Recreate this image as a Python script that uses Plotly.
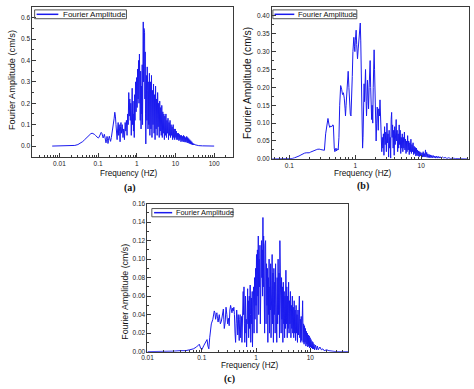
import plotly.graph_objects as go

# ---------------- data ----------------
# Panel (a): (frequency Hz, Fourier amplitude cm/s)
spec_a = [
    (0.0065, 0.0), (0.01, 0.0), (0.015, 0.0), (0.02, 0.001), (0.025, 0.003), (0.03, 0.007),
    (0.035, 0.013), (0.04, 0.021), (0.045, 0.030), (0.05, 0.039), (0.055, 0.047), (0.06, 0.054),
    (0.065, 0.058), (0.07, 0.060), (0.075, 0.059), (0.08, 0.055), (0.085, 0.050), (0.09, 0.045),
    (0.095, 0.041), (0.10, 0.038), (0.105, 0.040), (0.11, 0.050), (0.115, 0.060), (0.12, 0.064),
    (0.125, 0.060), (0.13, 0.048), (0.135, 0.038), (0.14, 0.046), (0.145, 0.055), (0.15, 0.042),
    (0.155, 0.025), (0.16, 0.015), (0.165, 0.030), (0.17, 0.045), (0.175, 0.035), (0.18, 0.012),
    (0.185, 0.025), (0.19, 0.040), (0.195, 0.046), (0.20, 0.035), (0.21, 0.022), (0.22, 0.040),
    (0.23, 0.060), (0.24, 0.075), (0.25, 0.100), (0.26, 0.130), (0.27, 0.158), (0.28, 0.140),
    (0.29, 0.100), (0.30, 0.060), (0.31, 0.030), (0.32, 0.080), (0.33, 0.110), (0.34, 0.050),
    (0.35, 0.100), (0.36, 0.070), (0.37, 0.020), (0.38, 0.090), (0.39, 0.110), (0.40, 0.060),
    (0.42, 0.100), (0.44, 0.040), (0.46, 0.080), (0.48, 0.030), (0.50, 0.110), (0.52, 0.070),
    (0.54, 0.120), (0.56, 0.050), (0.58, 0.150), (0.60, 0.100), (0.62, 0.250), (0.64, 0.140),
    (0.66, 0.220), (0.68, 0.120), (0.70, 0.200), (0.72, 0.050), (0.74, 0.180), (0.76, 0.270),
    (0.78, 0.100), (0.80, 0.210), (0.82, 0.070), (0.84, 0.150), (0.86, 0.040), (0.88, 0.240),
    (0.90, 0.120), (0.93, 0.300), (0.96, 0.160), (0.99, 0.320), (1.02, 0.180), (1.05, 0.360),
    (1.08, 0.220), (1.11, 0.400), (1.14, 0.200), (1.17, 0.430), (1.20, 0.250), (1.23, 0.120),
    (1.26, 0.350), (1.29, 0.080), (1.32, 0.280), (1.35, 0.150), (1.38, 0.380), (1.41, 0.100),
    (1.44, 0.460), (1.47, 0.580), (1.50, 0.300), (1.53, 0.550), (1.56, 0.400), (1.59, 0.530),
    (1.62, 0.220), (1.65, 0.440), (1.68, 0.150), (1.71, 0.010), (1.74, 0.300), (1.77, 0.180),
    (1.80, 0.330), (1.83, 0.120), (1.86, 0.370), (1.89, 0.200), (1.92, 0.260), (1.95, 0.080),
    (1.98, 0.300), (2.05, 0.100), (2.12, 0.340), (2.18, 0.050), (2.25, 0.300), (2.32, 0.080),
    (2.40, 0.330), (2.47, 0.040), (2.55, 0.260), (2.63, 0.100), (2.71, 0.290), (2.80, 0.060),
    (2.88, 0.240), (2.97, 0.030), (3.06, 0.280), (3.16, 0.080), (3.26, 0.220), (3.36, 0.050),
    (3.46, 0.250), (3.57, 0.090), (3.68, 0.200), (3.80, 0.040), (3.92, 0.210), (4.04, 0.070),
    (4.16, 0.180), (4.29, 0.050), (4.43, 0.190), (4.57, 0.040), (4.71, 0.160), (4.86, 0.060),
    (5.01, 0.150), (5.17, 0.030), (5.33, 0.140), (5.50, 0.050), (5.67, 0.150), (5.85, 0.040),
    (6.03, 0.120), (6.22, 0.060), (6.41, 0.130), (6.61, 0.030), (6.82, 0.110), (7.03, 0.050),
    (7.25, 0.120), (7.48, 0.040), (7.71, 0.100), (7.95, 0.050), (8.20, 0.090), (8.46, 0.030),
    (8.72, 0.100), (9.00, 0.040), (9.28, 0.080), (9.57, 0.030), (9.87, 0.080), (10.2, 0.040),
    (10.5, 0.070), (10.8, 0.030), (11.2, 0.060), (11.5, 0.030), (11.9, 0.060), (12.3, 0.025),
    (12.6, 0.055), (13.0, 0.030), (13.4, 0.050), (13.9, 0.020), (14.3, 0.050), (14.8, 0.025),
    (15.2, 0.045), (15.7, 0.020), (16.2, 0.050), (16.7, 0.020), (17.2, 0.045), (17.8, 0.018),
    (18.3, 0.040), (18.9, 0.020), (19.5, 0.045), (20.1, 0.015), (20.7, 0.040), (21.4, 0.015),
    (22.0, 0.035), (22.7, 0.012), (23.4, 0.030), (24.2, 0.010), (24.9, 0.025), (25.7, 0.008),
    (26.5, 0.020), (27.4, 0.006), (28.2, 0.014), (29.1, 0.005), (30.0, 0.010), (32.0, 0.006),
    (35.0, 0.004), (40.0, 0.002), (50.0, 0.001), (65.0, 0.0), (80.0, 0.0), (100.0, 0.0),
]

# Panel (b)
spec_b = [
    (0.055, 0.0), (0.08, 0.0), (0.10, 0.0005), (0.11, 0.001), (0.12, 0.003), (0.13, 0.005),
    (0.14, 0.008), (0.15, 0.011), (0.16, 0.014), (0.17, 0.016), (0.18, 0.017), (0.19, 0.016),
    (0.20, 0.017), (0.21, 0.019), (0.22, 0.021), (0.23, 0.023), (0.24, 0.024), (0.25, 0.025),
    (0.26, 0.026), (0.27, 0.027), (0.28, 0.028), (0.29, 0.027), (0.30, 0.026), (0.31, 0.025),
    (0.32, 0.024), (0.33, 0.023), (0.34, 0.024), (0.355, 0.070), (0.37, 0.100), (0.385, 0.113),
    (0.40, 0.095), (0.41, 0.088), (0.425, 0.092), (0.44, 0.090), (0.455, 0.095), (0.465, 0.094),
    (0.48, 0.030), (0.49, 0.020), (0.50, 0.025), (0.51, 0.030), (0.52, 0.022), (0.535, 0.028),
    (0.55, 0.025), (0.565, 0.060), (0.58, 0.150), (0.60, 0.205), (0.62, 0.195), (0.64, 0.180),
    (0.66, 0.185), (0.68, 0.170), (0.70, 0.140), (0.71, 0.120), (0.725, 0.150), (0.74, 0.190),
    (0.76, 0.230), (0.78, 0.245), (0.80, 0.200), (0.82, 0.150), (0.84, 0.125), (0.86, 0.120),
    (0.88, 0.160), (0.90, 0.230), (0.92, 0.300), (0.95, 0.340), (0.97, 0.315), (0.985, 0.300),
    (1.00, 0.330), (1.03, 0.360), (1.05, 0.320), (1.08, 0.280), (1.11, 0.310), (1.14, 0.350),
    (1.17, 0.375), (1.19, 0.380), (1.21, 0.330), (1.23, 0.250), (1.25, 0.150), (1.27, 0.080),
    (1.29, 0.030), (1.31, 0.060), (1.33, 0.130), (1.36, 0.210), (1.38, 0.160), (1.40, 0.200),
    (1.43, 0.250), (1.46, 0.160), (1.48, 0.120), (1.50, 0.150), (1.53, 0.220), (1.56, 0.160),
    (1.59, 0.140), (1.62, 0.200), (1.65, 0.250), (1.68, 0.275), (1.71, 0.200), (1.74, 0.150),
    (1.77, 0.110), (1.80, 0.150), (1.84, 0.100), (1.87, 0.200), (1.90, 0.280), (1.93, 0.305),
    (1.96, 0.250), (1.99, 0.150), (2.03, 0.080), (2.07, 0.050), (2.11, 0.100), (2.15, 0.145),
    (2.19, 0.120), (2.23, 0.080), (2.27, 0.140), (2.32, 0.120), (2.37, 0.165), (2.42, 0.100),
    (2.47, 0.050), (2.52, 0.020), (2.57, 0.060), (2.62, 0.030), (2.67, 0.070), (2.72, 0.010),
    (2.78, 0.090), (2.84, 0.040), (2.90, 0.075), (2.96, 0.020), (3.02, 0.100), (3.08, 0.045),
    (3.14, 0.070), (3.20, 0.005), (3.26, 0.080), (3.32, 0.030), (3.38, 0.060), (3.44, 0.002),
    (3.50, 0.110), (3.56, 0.130), (3.62, 0.060), (3.68, 0.095), (3.75, 0.030), (3.82, 0.080),
    (3.89, 0.010), (3.96, 0.090), (4.03, 0.040), (4.10, 0.070), (4.17, 0.110), (4.24, 0.050),
    (4.31, 0.080), (4.39, 0.020), (4.47, 0.070), (4.55, 0.030), (4.63, 0.095), (4.71, 0.040),
    (4.80, 0.080), (4.89, 0.015), (4.98, 0.060), (5.07, 0.030), (5.16, 0.070), (5.26, 0.020),
    (5.36, 0.060), (5.46, 0.030), (5.56, 0.075), (5.66, 0.025), (5.77, 0.055), (5.88, 0.015),
    (5.99, 0.050), (6.10, 0.020), (6.22, 0.065), (6.34, 0.025), (6.46, 0.050), (6.58, 0.012),
    (6.71, 0.045), (6.84, 0.020), (6.97, 0.055), (7.10, 0.015), (7.24, 0.040), (7.38, 0.020),
    (7.52, 0.045), (7.67, 0.012), (7.82, 0.035), (7.97, 0.015), (8.13, 0.032), (8.29, 0.008),
    (8.45, 0.030), (8.61, 0.010), (8.78, 0.025), (8.95, 0.008), (9.13, 0.022), (9.31, 0.006),
    (9.49, 0.020), (9.68, 0.008), (9.87, 0.018), (10.1, 0.006), (10.3, 0.016), (10.5, 0.005),
    (10.7, 0.020), (10.9, 0.006), (11.1, 0.015), (11.4, 0.005), (11.6, 0.025), (11.8, 0.006),
    (12.1, 0.018), (12.3, 0.004), (12.6, 0.014), (12.9, 0.004), (13.2, 0.012), (13.5, 0.003),
    (13.8, 0.011), (14.1, 0.003), (14.5, 0.010), (14.9, 0.003), (15.3, 0.009), (15.7, 0.003),
    (16.1, 0.008), (16.6, 0.002), (17.1, 0.008), (17.6, 0.002), (18.1, 0.007), (18.7, 0.002),
    (19.3, 0.006), (20.0, 0.002), (21.0, 0.005), (22.0, 0.002), (23.0, 0.004), (24.5, 0.001),
    (26.0, 0.003), (28.0, 0.001), (30.0, 0.002), (33.0, 0.001), (37.0, 0.0005), (42.0, 0.0),
    (50.0, 0.0),
]

# Panel (c)
spec_c = [
    (0.01, 0.0), (0.02, 0.0), (0.03, 0.0005), (0.04, 0.001), (0.05, 0.001), (0.06, 0.002),
    (0.07, 0.003), (0.08, 0.005), (0.09, 0.008), (0.095, 0.004), (0.10, 0.002), (0.11, 0.007),
    (0.12, 0.012), (0.125, 0.013), (0.13, 0.006), (0.135, 0.003), (0.14, 0.015), (0.145, 0.025),
    (0.15, 0.030), (0.16, 0.035), (0.17, 0.044), (0.175, 0.042), (0.18, 0.035), (0.185, 0.040),
    (0.19, 0.042), (0.195, 0.036), (0.20, 0.032), (0.21, 0.040), (0.215, 0.037), (0.22, 0.030),
    (0.23, 0.033), (0.24, 0.042), (0.25, 0.046), (0.255, 0.035), (0.26, 0.025), (0.27, 0.032),
    (0.28, 0.048), (0.29, 0.040), (0.30, 0.030), (0.31, 0.036), (0.32, 0.028), (0.33, 0.045),
    (0.34, 0.050), (0.35, 0.046), (0.36, 0.042), (0.37, 0.047), (0.38, 0.044), (0.39, 0.048),
    (0.40, 0.040), (0.41, 0.020), (0.42, 0.010), (0.43, 0.030), (0.44, 0.045), (0.45, 0.035),
    (0.46, 0.018), (0.47, 0.040), (0.48, 0.025), (0.49, 0.012), (0.50, 0.035), (0.51, 0.040),
    (0.52, 0.015), (0.53, 0.028), (0.54, 0.038), (0.55, 0.010), (0.56, 0.030), (0.57, 0.020),
    (0.58, 0.065), (0.59, 0.040), (0.60, 0.070), (0.61, 0.030), (0.62, 0.010), (0.63, 0.045),
    (0.64, 0.060), (0.65, 0.020), (0.66, 0.035), (0.67, 0.005), (0.68, 0.050), (0.70, 0.068),
    (0.71, 0.030), (0.72, 0.055), (0.73, 0.015), (0.75, 0.060), (0.76, 0.025), (0.78, 0.072),
    (0.79, 0.040), (0.80, 0.010), (0.82, 0.058), (0.83, 0.030), (0.85, 0.065), (0.86, 0.005),
    (0.88, 0.045), (0.90, 0.070), (0.92, 0.020), (0.94, 0.080), (0.96, 0.035), (0.98, 0.090),
    (1.00, 0.050), (1.02, 0.105), (1.04, 0.020), (1.06, 0.110), (1.08, 0.060), (1.10, 0.125),
    (1.12, 0.040), (1.14, 0.100), (1.16, 0.070), (1.18, 0.115), (1.20, 0.030), (1.22, 0.095),
    (1.24, 0.050), (1.26, 0.120), (1.28, 0.080), (1.30, 0.110), (1.32, 0.060), (1.34, 0.145),
    (1.36, 0.070), (1.38, 0.125), (1.40, 0.040), (1.42, 0.100), (1.44, 0.020), (1.46, 0.115),
    (1.48, 0.060), (1.50, 0.120), (1.53, 0.030), (1.56, 0.095), (1.59, 0.050), (1.62, 0.090),
    (1.65, 0.010), (1.68, 0.080), (1.71, 0.040), (1.74, 0.100), (1.77, 0.020), (1.80, 0.070),
    (1.83, 0.045), (1.86, 0.095), (1.89, 0.015), (1.92, 0.080), (1.95, 0.050), (1.98, 0.105),
    (2.01, 0.030), (2.05, 0.085), (2.09, 0.010), (2.13, 0.090), (2.17, 0.040), (2.21, 0.075),
    (2.25, 0.020), (2.29, 0.095), (2.33, 0.035), (2.37, 0.070), (2.41, 0.010), (2.45, 0.080),
    (2.50, 0.030), (2.55, 0.100), (2.60, 0.040), (2.65, 0.085), (2.70, 0.015), (2.75, 0.120),
    (2.80, 0.050), (2.85, 0.095), (2.90, 0.020), (2.95, 0.080), (3.00, 0.035), (3.06, 0.070),
    (3.12, 0.010), (3.18, 0.075), (3.24, 0.030), (3.30, 0.065), (3.36, 0.015), (3.42, 0.060),
    (3.48, 0.025), (3.55, 0.088), (3.62, 0.030), (3.69, 0.070), (3.76, 0.015), (3.83, 0.060),
    (3.90, 0.025), (3.98, 0.075), (4.06, 0.020), (4.14, 0.055), (4.22, 0.030), (4.30, 0.065),
    (4.39, 0.015), (4.48, 0.050), (4.57, 0.025), (4.66, 0.060), (4.75, 0.020), (4.85, 0.048),
    (4.95, 0.015), (5.05, 0.055), (5.15, 0.020), (5.25, 0.045), (5.36, 0.012), (5.47, 0.050),
    (5.58, 0.020), (5.69, 0.040), (5.80, 0.010), (5.92, 0.045), (6.04, 0.018), (6.16, 0.040),
    (6.28, 0.060), (6.41, 0.015), (6.54, 0.035), (6.67, 0.010), (6.80, 0.038), (6.94, 0.012),
    (7.08, 0.030), (7.22, 0.055), (7.37, 0.010), (7.52, 0.030), (7.67, 0.008), (7.82, 0.028),
    (7.98, 0.010), (8.14, 0.025), (8.30, 0.006), (8.47, 0.022), (8.64, 0.008), (8.81, 0.020),
    (8.99, 0.005), (9.17, 0.018), (9.35, 0.006), (9.54, 0.017), (9.73, 0.004), (9.92, 0.015),
    (10.1, 0.005), (10.3, 0.013), (10.5, 0.004), (10.8, 0.011), (11.0, 0.003), (11.2, 0.010),
    (11.5, 0.003), (11.7, 0.008), (12.0, 0.002), (12.5, 0.007), (13.0, 0.002), (13.5, 0.006),
    (14.0, 0.002), (15.0, 0.005), (16.0, 0.002), (17.0, 0.003), (18.0, 0.001), (20.0, 0.002),
    (22.0, 0.001), (25.0, 0.0005), (30.0, 0.0), (40.0, 0.0), (50.0, 0.0),
]

series_name = "Fourier Amplitude"
x_title = "Frequency (HZ)"
y_title = "Fourier Amplitude (cm/s)"
panel_labels = ["(a)", "(b)", "(c)"]

xticks_a = [0.01, 0.1, 1, 10, 100]
xticks_b = [0.1, 1, 10]
xticks_c = [0.01, 0.1, 1, 10]
yticks_a = [0.0, 0.1, 0.2, 0.3, 0.4, 0.5, 0.6]
yticks_b = [0.00, 0.05, 0.10, 0.15, 0.20, 0.25, 0.30, 0.35, 0.40]
yticks_c = [0.00, 0.02, 0.04, 0.06, 0.08, 0.10, 0.12, 0.14, 0.16]

# ---------------- figure ----------------
W, H = 474, 389
LINE = "#1a1aee"
AX = "#3a3a3a"
FONT = "Liberation Sans, Arial, sans-serif"


def px(x):
    return x / W


def py(y):
    return 1 - y / H


fig = go.Figure()
for spec, xa, ya in [(spec_a, "x", "y"), (spec_b, "x2", "y2"), (spec_c, "x3", "y3")]:
    fig.add_trace(go.Scatter(
        x=[p[0] for p in spec], y=[p[1] for p in spec], mode="lines",
        line=dict(color=LINE, width=1), xaxis=xa, yaxis=ya,
        showlegend=False, name=series_name,
    ))


def minor_log(lo, hi):
    vals = []
    d = lo
    while d < hi:
        for m in range(2, 10):
            vals.append(round(m * d, 6))
        d *= 10
    return vals


def xaxis(dom, rng, ticks, anchor, minor_lo, minor_hi):
    return dict(
        type="log", domain=dom, range=rng, anchor=anchor,
        tickvals=ticks, ticktext=[("%g" % t) for t in ticks],
        ticks="inside", ticklen=4, tickwidth=1, tickcolor=AX,
        minor=dict(tickvals=minor_log(minor_lo, minor_hi), ticks="inside",
                   ticklen=2, tickwidth=1, tickcolor=AX),
        showline=True, linecolor=AX, linewidth=1, mirror=True,
        showgrid=False, zeroline=False,
        tickfont=dict(family=FONT, size=6.5, color="#222"),
    )


def yaxis(dom, rng, ticks, fmt, anchor, minor_step):
    return dict(
        domain=dom, range=rng, anchor=anchor,
        tickvals=ticks, ticktext=[fmt % t for t in ticks],
        ticks="inside", ticklen=4, tickwidth=1, tickcolor=AX,
        minor=dict(dtick=minor_step, ticks="inside", ticklen=2, tickwidth=1, tickcolor=AX),
        showline=True, linecolor=AX, linewidth=1, mirror=True,
        showgrid=False, zeroline=False,
        tickfont=dict(family=FONT, size=6.5, color="#222"),
    )


fig.update_layout(
    width=W, height=H, margin=dict(l=0, r=0, t=0, b=0),
    paper_bgcolor="white", plot_bgcolor="white",
    xaxis=xaxis([px(26.7), px(230)], [-2.7, 2.49], xticks_a, "y", 0.001, 1000),
    yaxis=yaxis([py(156), py(3)], [-0.052, 0.65], yticks_a, "%.1f", "x", 0.05),
    xaxis2=xaxis([px(269.3), px(469.3)], [-1.265, 1.73], xticks_b, "y2", 0.01, 100),
    yaxis2=yaxis([py(157.7), py(3)], [0, 0.425], yticks_b, "%.2f", "x2", 0.025),
    xaxis3=xaxis([px(143.3), px(346.7)], [-2.0, 1.70], xticks_c, "y3", 0.01, 100),
    yaxis3=yaxis([py(354), py(203.3)], [0, 0.16], yticks_c, "%.2f", "x3", 0.01),
)

ann = []


def text(x, y, s, size, angle=0, anchor="center", family=FONT, bold=False):
    ann.append(dict(
        x=px(x), y=py(y), xref="paper", yref="paper", text=("<b>%s</b>" % s) if bold else s,
        showarrow=False, textangle=angle, xanchor=anchor, yanchor="middle",
        font=dict(family=family, size=size, color="#111"),
    ))


# axis titles
text(5.5, 77, y_title, 9.2, angle=-90)
text(125, 173, x_title, 8.2)
text(244.5, 80, y_title, 10.3, angle=-90)
text(362, 173, x_title, 8.2)
text(120.5, 293, y_title, 8.8, angle=-90)
text(246.7, 367.7, x_title, 8.2)

# panel labels
SERIF = "Liberation Serif, Times New Roman, serif"
text(126, 187, panel_labels[0], 10, family=SERIF, bold=True)
text(362, 185, panel_labels[1], 10, family=SERIF, bold=True)
text(226, 381.5, panel_labels[2], 10, family=SERIF, bold=True)

# legends (box, line sample, label)
shapes = []
for (x0, y0, x1, y1, lx0, lx1, tx, fs) in [
    (29, 6, 122, 15, 31, 53, 56, 8.0),
    (270.3, 6, 355.3, 15, 272, 292, 294, 7.5),
    (147.7, 208.3, 230, 216.7, 150, 168.3, 170.5, 7.4),
]:
    shapes.append(dict(type="rect", xref="paper", yref="paper",
                       x0=px(x0), y0=py(y0), x1=px(x1), y1=py(y1),
                       line=dict(color="#555", width=1), fillcolor="rgba(0,0,0,0)"))
    ym = (y0 + y1) / 2
    shapes.append(dict(type="line", xref="paper", yref="paper",
                       x0=px(lx0), y0=py(ym), x1=px(lx1), y1=py(ym),
                       line=dict(color=LINE, width=1.5)))
    text(tx, ym, series_name, fs, anchor="left")

fig.update_layout(annotations=ann, shapes=shapes)
fig.write_html(
    "out.html",
    config={"displayModeBar": False, "staticPlot": True},
    post_script="document.body.style.margin='0';document.body.style.overflow='hidden';",
)
